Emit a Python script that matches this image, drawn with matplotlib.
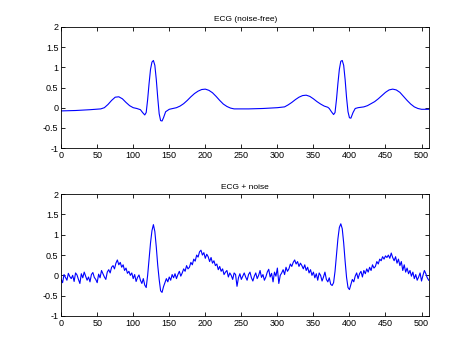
import numpy as np
import matplotlib
matplotlib.use("Agg")
import matplotlib.pyplot as plt

# ── data ──────────────────────────────────────────────────────────────────────
clean_t = [0, 20, 40, 55, 60, 65, 70, 75, 80, 85, 90, 95, 100, 105, 110, 113,
           116, 118, 120, 122, 124, 126, 128, 130, 132, 134, 136, 138, 140, 142,
           145, 150, 155, 160, 165, 170, 175, 180, 185, 190, 195, 200, 205, 210,
           215, 220, 225, 230, 235, 240, 260, 280, 300, 310, 315, 320, 325, 330,
           335, 340, 345, 350, 355, 360, 365, 370, 372, 375, 378, 380, 382, 384,
           386, 388, 390, 392, 394, 396, 398, 400, 402, 405, 408, 412, 420, 425,
           430, 435, 440, 445, 450, 455, 460, 465, 470, 475, 480, 485, 490, 495,
           500, 511]
clean_v = [-0.08, -0.07, -0.05, -0.03, 0.00, 0.08, 0.18, 0.26, 0.27, 0.22, 0.13,
           0.05, 0.00, -0.02, -0.05, -0.12, -0.18, -0.12, 0.20, 0.60, 0.95, 1.13,
           1.17, 1.05, 0.70, 0.25, -0.15, -0.32, -0.33, -0.25, -0.10, -0.04, -0.02,
           0.00, 0.04, 0.10, 0.18, 0.27, 0.35, 0.41, 0.45, 0.46, 0.43, 0.37, 0.28,
           0.18, 0.09, 0.03, -0.01, -0.03, -0.03, -0.02, 0.00, 0.02, 0.07, 0.13,
           0.20, 0.26, 0.30, 0.31, 0.28, 0.22, 0.15, 0.09, 0.04, 0.01, -0.02, -0.10,
           -0.17, -0.12, 0.20, 0.60, 0.95, 1.15, 1.17, 1.05, 0.70, 0.25, -0.10,
           -0.25, -0.26, -0.12, -0.02, 0.00, 0.02, 0.05, 0.10, 0.15, 0.22, 0.30,
           0.38, 0.44, 0.46, 0.44, 0.38, 0.28, 0.18, 0.09, 0.02, -0.02, -0.04, -0.04]

noisy_t = list(range(0, 512, 2))
noisy_v = [
    -0.10, -0.18, 0.02, -0.05, -0.12, 0.05, -0.03, -0.08, 0.00, -0.15, 0.06, 0.01, -0.10, -0.20, 0.04, -0.06,
    0.08, -0.02, -0.12, -0.04, -0.16, 0.02, 0.07, -0.05, -0.10, -0.18, 0.03, -0.06, 0.12, 0.04, -0.04, -0.10,
    0.08, 0.14, 0.06, 0.20, 0.24, 0.16, 0.30, 0.38, 0.26, 0.32, 0.20, 0.26, 0.12, 0.18, 0.05, 0.10,
    0.00, 0.06, -0.08, 0.02, -0.15, -0.05, 0.01, -0.12, -0.20, -0.08, -0.24, -0.30, 0.00, 0.40, 0.80, 1.10,
    1.25, 1.08, 0.70, 0.25, -0.10, -0.38, -0.42, -0.28, -0.18, -0.08, -0.16, -0.04, -0.12, 0.02, -0.06, 0.04,
    -0.08, 0.02, 0.10, -0.02, 0.06, 0.16, 0.10, 0.24, 0.16, 0.20, 0.32, 0.26, 0.40, 0.35, 0.50, 0.45,
    0.58, 0.62, 0.50, 0.56, 0.42, 0.52, 0.46, 0.34, 0.44, 0.30, 0.36, 0.24, 0.28, 0.14, 0.22, 0.10,
    0.16, 0.02, 0.08, 0.12, -0.04, 0.06, 0.00, -0.10, 0.06, 0.02, -0.27, -0.06, 0.04, -0.10, -0.02, 0.06,
    -0.04, -0.12, 0.02, 0.08, -0.06, -0.14, -0.02, 0.06, -0.08, 0.00, 0.12, -0.05, 0.02, -0.12, -0.04, 0.08,
    0.15, -0.04, 0.05, -0.16, 0.08, -0.02, 0.18, -0.20, 0.00, 0.06, 0.14, 0.02, 0.20, 0.10, 0.16, 0.28,
    0.22, 0.32, 0.38, 0.28, 0.34, 0.22, 0.30, 0.24, 0.16, 0.26, 0.12, 0.20, 0.06, 0.14, 0.00, 0.08,
    -0.06, 0.04, -0.12, 0.06, 0.00, -0.14, -0.04, 0.08, -0.10, -0.16, -0.06, -0.22, -0.25, -0.18, 0.10, 0.50,
    0.90, 1.18, 1.27, 1.15, 0.80, 0.35, -0.05, -0.30, -0.35, -0.22, -0.10, -0.16, -0.02, 0.06, -0.08, 0.04,
    0.10, -0.04, 0.12, 0.04, 0.16, 0.08, 0.20, 0.12, 0.26, 0.18, 0.22, 0.34, 0.28, 0.40, 0.36, 0.46,
    0.40, 0.48, 0.44, 0.50, 0.42, 0.55, 0.44, 0.36, 0.46, 0.30, 0.40, 0.24, 0.34, 0.12, 0.26, 0.08,
    0.18, 0.04, 0.12, -0.02, 0.08, -0.08, 0.02, -0.12, -0.04, 0.06, -0.14, 0.00, 0.12, 0.04, -0.06, -0.12,
]

x_ticks = list(range(0, 501, 50))
y_ticks = [-1, -0.5, 0, 0.5, 1, 1.5, 2]
y_labels = ["-1", "-0.5", "0", "0.5", "1", "1.5", "2"]

# ── plot ───────────────────────────────────────────────────────────────────────
plt.rcParams["font.family"] = ["Liberation Sans", "DejaVu Sans"]
plt.rcParams["font.size"] = 6

fig = plt.figure(figsize=(4.74, 3.55), dpi=100)
ax1 = fig.add_axes([0.129, 0.583, 0.777, 0.341])
ax2 = fig.add_axes([0.129, 0.110, 0.777, 0.343])

panels = [(ax1, clean_t, clean_v, "ECG (noise-free)"),
          (ax2, noisy_t, noisy_v, "ECG + noise")]

for ax, t, v, title in panels:
    ax.plot(t, v, color="#0000ff", lw=0.8)
    ax.set_xlim(0, 511)
    ax.set_ylim(-1, 2)
    ax.set_xticks(x_ticks)
    ax.set_yticks(y_ticks)
    ax.set_yticklabels(y_labels)
    ax.tick_params(direction="in", length=3, width=0.6, top=True, right=True,
                   labelsize=6.5, pad=2)
    for sp in ax.spines.values():
        sp.set_linewidth(0.6)
    ax.set_title(title, fontsize=6, pad=4)

fig.savefig("out.png", dpi=100)
